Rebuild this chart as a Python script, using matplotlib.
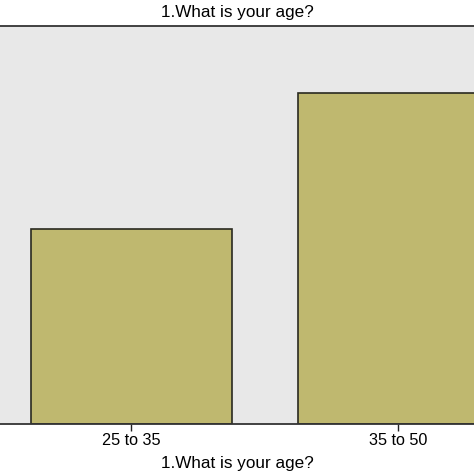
import matplotlib.pyplot as plt

categories = ["25 to 35", "35 to 50"]
percents = [37.1, 62.9]

plt.rcParams["font.family"] = ["Liberation Sans", "DejaVu Sans"]

fig = plt.figure(figsize=(4.74, 4.74), dpi=100)
ax = fig.add_axes([0, 50 / 474, 1, 397.5 / 474])
ax.set_facecolor("#e8e8e8")

x = range(len(categories))
ax.bar(x, percents, width=201 / 267, color="#bfb86f", edgecolor="#2a2a20", linewidth=1.2)

ax.set_xlim(-131 / 267, 1 + 76 / 267)
ax.set_ylim(0, 62.9 * 397.5 / 331)
ax.set_xticks(list(x))
ax.set_xticklabels(categories, fontsize=11.7)
ax.tick_params(axis="x", length=5, width=1, color="#222222", pad=1.5)
ax.set_yticks([])
for side in ("left", "right"):
    ax.spines[side].set_visible(False)
for side in ("top", "bottom"):
    ax.spines[side].set_linewidth(1.3)
    ax.spines[side].set_color("#333333")

ax.set_xlabel("1.What is your age?", fontsize=12.3, labelpad=5.5)
fig.text(0.5, 1 - 13 / 474, "1.What is your age?", ha="center", va="center", fontsize=12.3)

fig.savefig("out.png", dpi=100)
